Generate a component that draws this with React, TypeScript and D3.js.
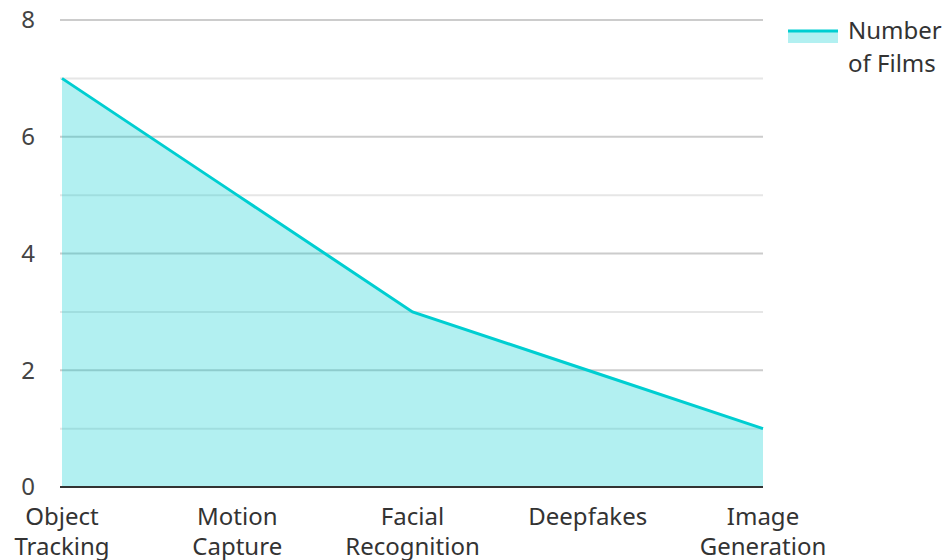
import React from "react";
import * as d3 from "d3";

const categories = ["Object Tracking", "Motion Capture", "Facial Recognition", "Deepfakes", "Image Generation"];
const values = [7, 5, 3, 2, 1];
const yTicks = [0, 2, 4, 6, 8];
const gridValues = [1, 2, 3, 4, 5, 6, 7, 8];
const seriesName = ["Number", "of Films"];

const W = 949, H = 560;
const left = 62, right = 763, top = 20, bottom = 487;
const color = "#00CED1";
const font = "'Noto Sans', sans-serif";

export default function App() {
  const x = d3.scalePoint<string>().domain(categories).range([left, right]);
  const y = d3.scaleLinear().domain([0, 8]).range([bottom, top]);
  const data = categories.map((c, i) => ({ c, v: values[i] }));
  const line = d3.line<any>().x(d => x(d.c)!).y(d => y(d.v));
  const area = d3.area<any>().x(d => x(d.c)!).y0(y(0)).y1(d => y(d.v));
  return (
    <svg width={W} height={H} style={{ position: "absolute", left: 0, top: 0, fontFamily: font }}>
      {gridValues.map(g => (
        <line key={g} x1={left - 2} x2={right} y1={y(g)} y2={y(g)} stroke={g % 2 === 0 ? "#cccccc" : "#e6e6e6"} strokeWidth={2} />
      ))}
      <path d={area(data)!} fill={color} fillOpacity={0.3} />
      <path d={line(data)!} fill="none" stroke={color} strokeWidth={3} />
      <line x1={left - 2} x2={right} y1={y(0)} y2={y(0)} stroke="#333" strokeWidth={2} />
      {yTicks.map(t => (
        <text key={t} x={35} y={y(t)} dy="0.35em" textAnchor="end" fontSize={24} fill="#444">{t}</text>
      ))}
      {categories.map(c => {
        const words = c.split(" ");
        return (
          <text key={c} x={x(c)} y={525} textAnchor="middle" fontSize={24} fill="#333">
            {words.map((w, i) => (
              <tspan key={i} x={x(c)} dy={i === 0 ? 0 : 30}>{w}</tspan>
            ))}
          </text>
        );
      })}
      <rect x={788} y={32} width={50} height={11} fill={color} fillOpacity={0.3} />
      <line x1={788} x2={838} y1={31} y2={31} stroke={color} strokeWidth={3} />
      <text x={848} y={39} fontSize={24} fill="#333">
        {seriesName.map((s, i) => (
          <tspan key={i} x={848} dy={i === 0 ? 0 : 33}>{s}</tspan>
        ))}
      </text>
    </svg>
  );
}
